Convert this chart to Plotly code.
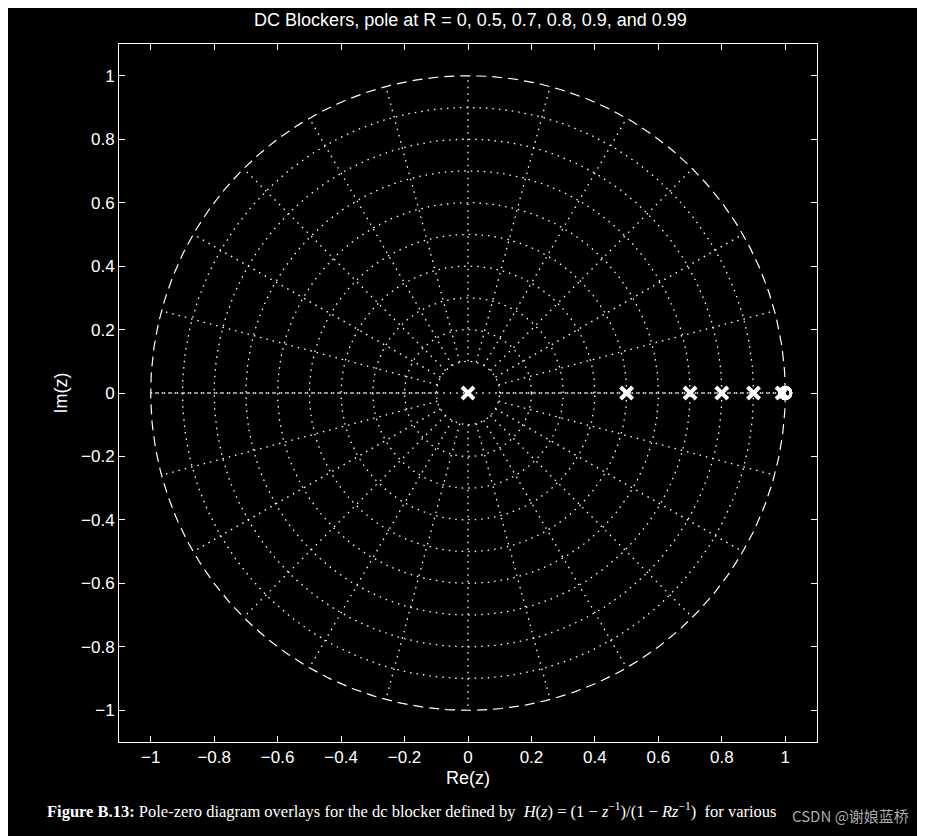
import numpy as np
import plotly.graph_objects as go

pole_re = [0, 0.5, 0.7, 0.8, 0.9, 0.99]
pole_im = [0, 0, 0, 0, 0, 0]
zero_re = [1, 1, 1, 1, 1, 1]
zero_im = [0, 0, 0, 0, 0, 0]
ticks = [-1, -0.8, -0.6, -0.4, -0.2, 0, 0.2, 0.4, 0.6, 0.8, 1]
ticktext = ["\u22121", "\u22120.8", "\u22120.6", "\u22120.4", "\u22120.2", "0", "0.2", "0.4", "0.6", "0.8", "1"]

fig = go.Figure()
grid = dict(color="white", width=1.3, dash="1.5px,5px")
th = np.linspace(0, 2*np.pi, 400)
for r in np.arange(0.1, 0.95, 0.1):
    fig.add_trace(go.Scatter(x=r*np.cos(th), y=r*np.sin(th), mode="lines", line=grid, hoverinfo="skip", showlegend=False))
for a in np.arange(0, 360, 15):
    t = np.radians(a)
    fig.add_trace(go.Scatter(x=[0.1*np.cos(t), np.cos(t)], y=[0.1*np.sin(t), np.sin(t)], mode="lines", line=grid, hoverinfo="skip", showlegend=False))
fig.add_trace(go.Scatter(x=np.cos(th), y=np.sin(th), mode="lines", line=dict(color="white", width=1.2, dash="10px,6px"), hoverinfo="skip", showlegend=False))
fig.add_trace(go.Scatter(x=[-1, 1], y=[0, 0], mode="lines", line=grid, showlegend=False))
fig.add_trace(go.Scatter(x=zero_re, y=zero_im, mode="markers", marker=dict(symbol="circle-open", size=11, color="white", line=dict(width=3, color="white")), showlegend=False))
fig.add_trace(go.Scatter(x=pole_re, y=pole_im, mode="markers", marker=dict(symbol="x-thin-open", size=12, color="white", line=dict(width=4, color="white")), showlegend=False))

ax = dict(range=[-1.1, 1.1], tickvals=ticks, ticktext=ticktext, ticks="inside", ticklen=6, tickcolor="white",
          showline=True, linecolor="white", mirror="ticks", showgrid=False, zeroline=False,
          tickfont=dict(color="white", size=17, family="Liberation Sans"))
fig.update_layout(
    width=925, height=836, paper_bgcolor="black", plot_bgcolor="black",
    margin=dict(l=111, r=116, t=36, b=102),
    xaxis=dict(ax, title=dict(text="Re(z)", font=dict(color="white", size=18, family="Liberation Sans"), standoff=4)),
    yaxis=dict(ax, title=dict(text="Im(z)", font=dict(color="white", size=18, family="Liberation Sans"), standoff=8)),
    title=dict(text="DC Blockers, pole at R = 0, 0.5, 0.7, 0.8, 0.9, and 0.99", x=0.5, xanchor="center", y=0.993, yanchor="top",
               font=dict(color="white", size=18, family="Liberation Sans")),
)
fig.add_annotation(xref="paper", yref="paper", x=-0.106, y=-0.098, xanchor="left", yanchor="middle", showarrow=False,
                   text="<b>Figure B.13:</b> Pole-zero diagram overlays for the dc blocker defined by  <i>H</i>(<i>z</i>) = (1 \u2212 <i>z</i><sup>\u22121</sup>)/(1 \u2212 <i>Rz</i><sup>\u22121</sup>)  for various",
                   font=dict(color="white", size=16.5, family="Liberation Serif"))
fig.add_annotation(xref="paper", yref="paper", x=1.135, y=-0.106, xanchor="right", yanchor="middle", showarrow=False,
                   text="CSDN @谢娘蓝桥", font=dict(color="#aaaaaa", size=15, family="Noto Sans CJK SC"))
fig.write_html("out.html")
